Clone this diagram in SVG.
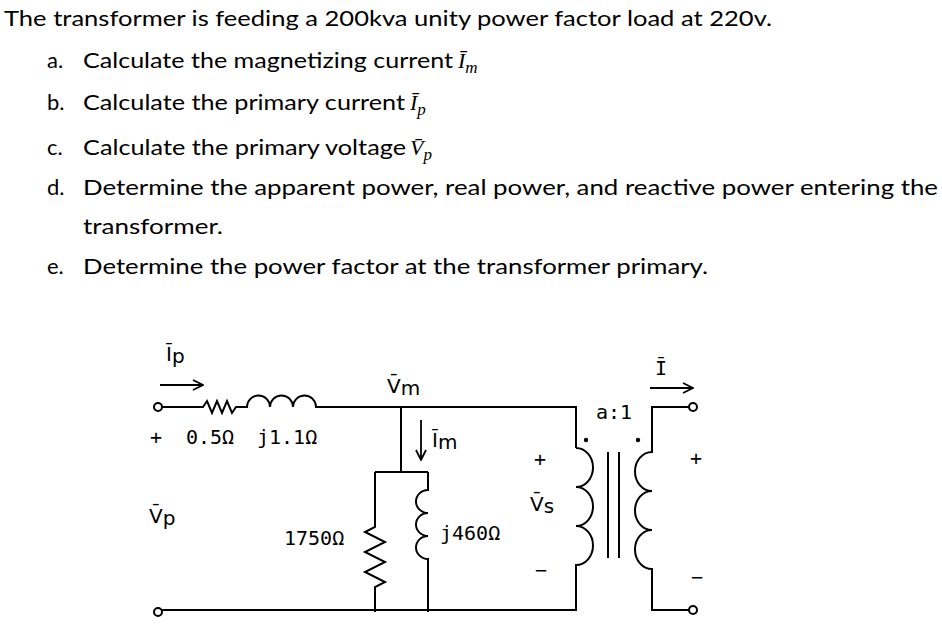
<svg xmlns="http://www.w3.org/2000/svg" width="942" height="625" viewBox="0 0 942 625">
<style>
.q{font-family:Lato,"Liberation Sans",sans-serif;font-size:22px;fill:#000}
.m{font-family:"Liberation Serif",serif;font-style:italic}
.c{font-family:"DejaVu Sans Mono",monospace;font-size:20px;fill:#000}
.s{font-family:"DejaVu Sans",sans-serif;font-size:20px;fill:#000}
.w{fill:none;stroke:#000;stroke-width:2}
</style>
<defs><marker id="ah" markerWidth="12" markerHeight="12" refX="11" refY="6" orient="auto" markerUnits="userSpaceOnUse"><path d="M1,1 L11,6 L1,11" fill="none" stroke="#000" stroke-width="1.8"/></marker></defs>
<g id="question">
<text class="q" x="4" y="26" textLength="768" lengthAdjust="spacingAndGlyphs">The transformer is feeding a 200kva unity power factor load at 220v.</text>
<text class="q" x="47" y="68">a.</text><text class="q" x="83" y="68" textLength="370" lengthAdjust="spacingAndGlyphs">Calculate the magnetizing current</text><text class="q m" x="458" y="68">Ī<tspan font-size="17" dy="5">m</tspan></text>
<text class="q" x="47" y="110">b.</text><text class="q" x="83" y="110" textLength="322" lengthAdjust="spacingAndGlyphs">Calculate the primary current</text><text class="q m" x="410" y="110">Ī<tspan font-size="17" dy="5">p</tspan></text>
<text class="q" x="47" y="155">c.</text><text class="q" x="83" y="155" textLength="323" lengthAdjust="spacingAndGlyphs">Calculate the primary voltage</text><text class="q m" x="410" y="155">V̄<tspan font-size="17" dy="5">p</tspan></text>
<text class="q" x="47" y="195">d.</text><text class="q" x="83" y="195" textLength="855" lengthAdjust="spacingAndGlyphs">Determine the apparent power, real power, and reactive power entering the</text>
<text class="q" x="83" y="234" textLength="140" lengthAdjust="spacingAndGlyphs">transformer.</text>
<text class="q" x="47" y="274">e.</text><text class="q" x="83" y="274" textLength="625" lengthAdjust="spacingAndGlyphs">Determine the power factor at the transformer primary.</text>
</g>
<g id="connectors">
<path class="w" d="M162,407 H203 l4,-6 l5,12 l5,-12 l5,12 l5,-12 l5,12 l4,-6 h11 a11.5,11.5 0 0 1 23,0 a11.5,11.5 0 0 1 23,0 a11.5,11.5 0 0 1 23,0 H576 V448"/>
<path class="w" d="M576,448 a17,19.5 0 0 1 0,39 a17,19.5 0 0 1 0,39 a17,19.5 0 0 1 0,39 V610 H162"/>
<path class="w" d="M401,407 V472 M375,472 H428 M375,472 V527 l-10,5 l20,10 l-20,10 l20,10 l-20,10 l20,10 l-10,5 V612 M428,472 V490 a12,11.5 0 0 0 0,23 a12,11.5 0 0 0 0,23 a12,11.5 0 0 0 0,23 V612"/>
<path class="w" d="M689,407 H652 V452 a17,19.5 0 0 0 0,39 a17,19.5 0 0 0 0,39 a17,19.5 0 0 0 0,39 V610 H689"/>
<path class="w" d="M608,452 V558 M619,452 V558"/>
<path d="M160,385 H203" stroke="#000" stroke-width="1.8" marker-end="url(#ah)"/>
<path d="M421,420 V460" stroke="#000" stroke-width="1.8" marker-end="url(#ah)"/>
<path d="M650,388 H693" stroke="#000" stroke-width="1.8" marker-end="url(#ah)"/>
</g>
<g id="terminals" fill="#fff" stroke="#000" stroke-width="2">
<circle cx="158" cy="407" r="4"/><circle cx="158" cy="612" r="4"/><circle cx="693" cy="407" r="4"/><circle cx="693" cy="610" r="4"/>
</g>
<g id="dots"><circle cx="586" cy="440" r="2.2"/><circle cx="638" cy="440" r="2.2"/></g>
<g id="labels">
<text class="s" x="166" y="361">Ī<tspan dy="2">p</tspan></text>
<text class="c" x="150" y="444">+</text>
<text class="s" x="149" y="523">V̄<tspan dy="2">p</tspan></text>
<text class="c" x="186" y="444">0.5Ω</text>
<text class="c" x="257" y="444">j1.1Ω</text>
<text class="s" x="387" y="393">V̄<tspan dy="2">m</tspan></text>
<text class="s" x="432" y="447">Ī<tspan dy="2">m</tspan></text>
<text class="c" x="284" y="545">1750Ω</text>
<text class="c" x="440" y="540">j460Ω</text>
<text class="c" x="534" y="466">+</text>
<text class="s" x="530" y="511">V̄<tspan dy="2">s</tspan></text>
<text class="c" x="535" y="577">−</text>
<text class="c" x="596" y="419">a:1</text>
<text class="c" x="655" y="375">Ī</text>
<text class="c" x="690" y="465">+</text>
<text class="c" x="691" y="584">−</text>
</g>
</svg>
